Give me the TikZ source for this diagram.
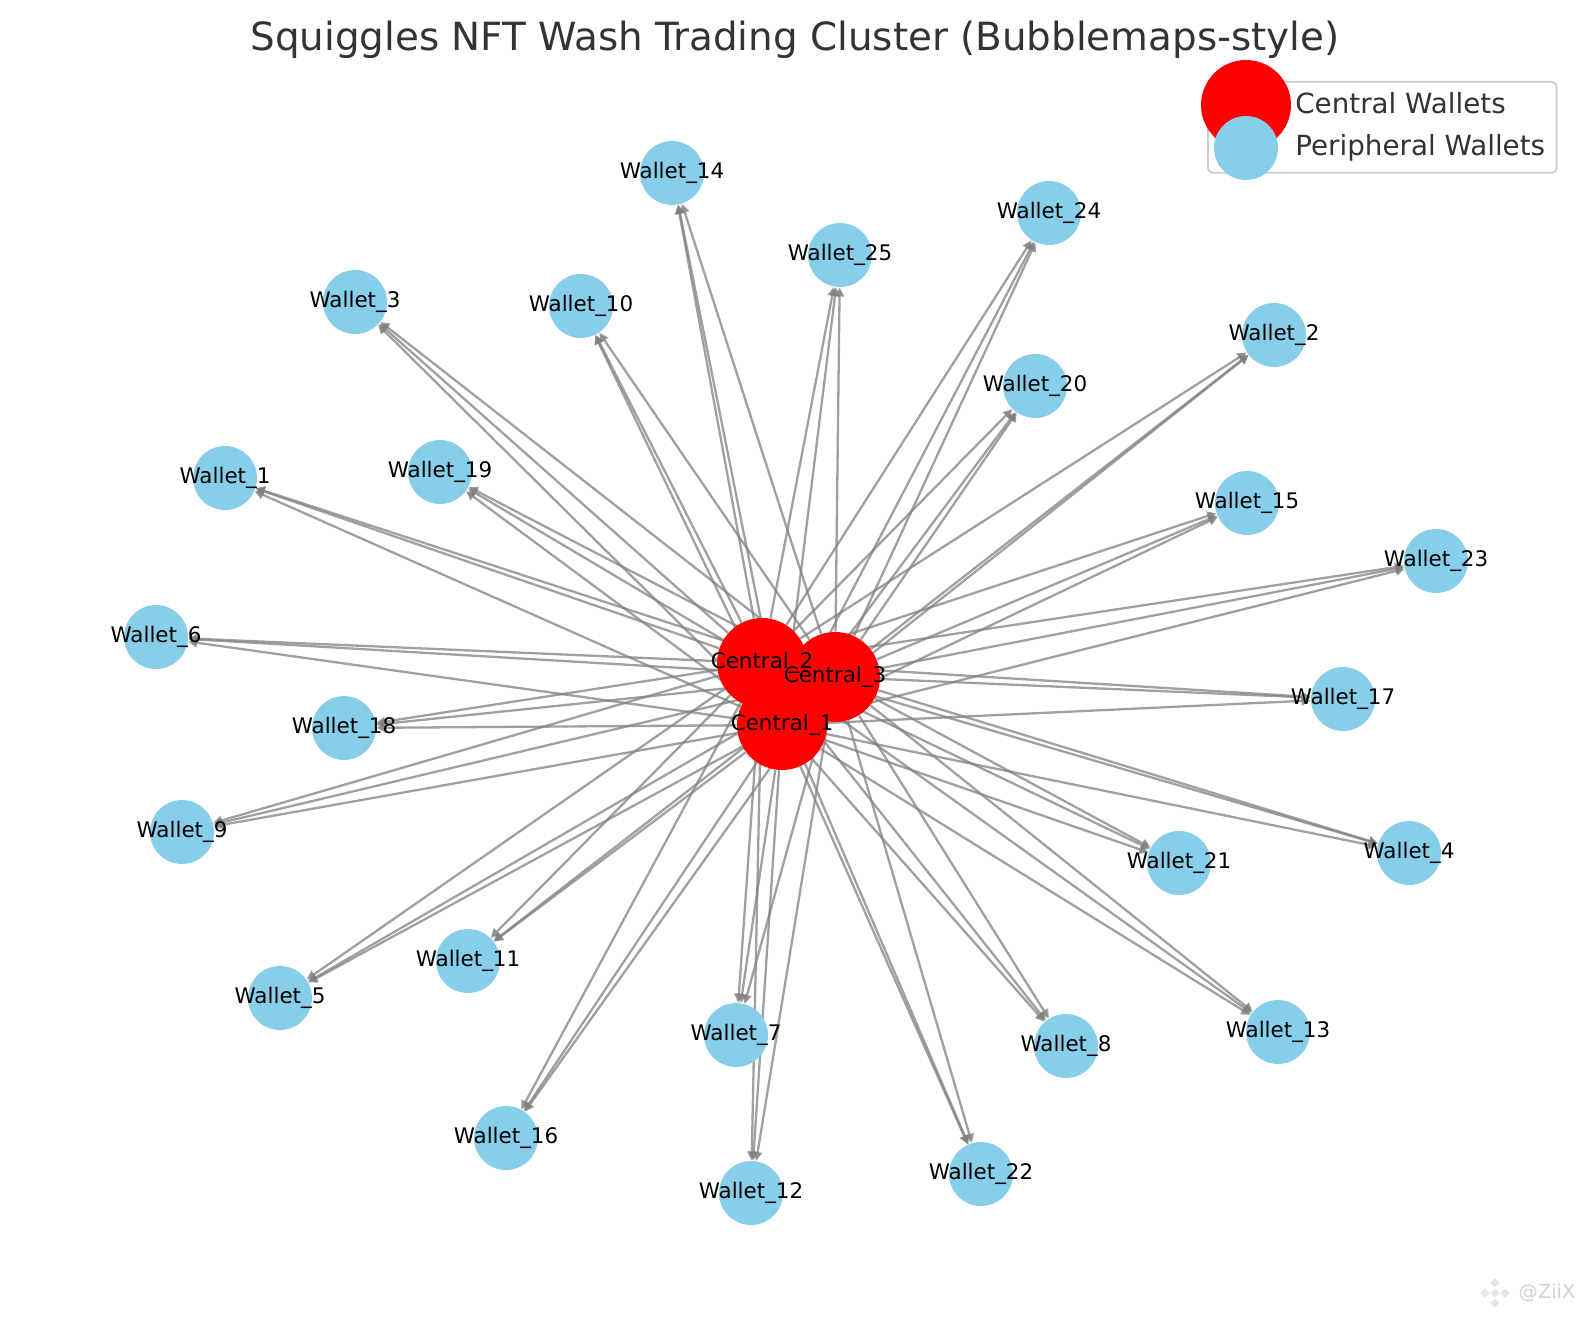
\documentclass[tikz,border=0pt]{standalone}
\usepackage{fontspec}
\setmainfont{DejaVu Sans}
\usepackage{tikz}
\usetikzlibrary{arrows.meta,backgrounds}
\definecolor{skyblue}{RGB}{135,206,235}
\definecolor{titlegray}{RGB}{51,51,51}
\definecolor{edgegray}{RGB}{128,128,128}
\definecolor{framegray}{RGB}{204,204,204}
\tikzset{
  central/.style={circle, fill=red, minimum size=1.8cm, inner sep=0pt},
  wallet/.style={circle, fill=skyblue, minimum size=1.28cm, inner sep=0pt},
  walletlabel/.style={inner sep=0pt, font=\fontsize{12.2pt}{14pt}\selectfont}
}

\begin{document}
\begin{tikzpicture}[
    x=0.02cm, y=-0.02cm, % one unit is one pixel of the reference
    edge/.style={draw=edgegray, opacity=0.75, line width=0.046cm, -{Triangle[length=5.2pt,width=5.2pt]}},
    legendbox/.style={draw=framegray, fill=white, line width=0.035cm, rounded corners=0.1cm},
    legendtext/.style={anchor=base west, inner sep=0pt, text=titlegray, font=\fontsize{15.8pt}{19pt}\selectfont},
    markpiece/.style={fill=black!10, rotate=45, minimum size=0.13cm, inner sep=0pt}
]
    \useasboundingbox (0,0) rectangle (1589,1318);

    % Define nodes
    \node (c1) [central] at (782,725) {};
    \node (c2) [central] at (762,663) {};
    \node (c3) [central] at (835,677) {};

    \node (w1) [wallet, label={[walletlabel]center:Wallet\_1}] at (225,478) {};
    \node (w2) [wallet, label={[walletlabel]center:Wallet\_2}] at (1274,335) {};
    \node (w3) [wallet, label={[walletlabel]center:Wallet\_3}] at (355,302) {};
    \node (w4) [wallet, label={[walletlabel]center:Wallet\_4}] at (1409,853) {};
    \node (w5) [wallet, label={[walletlabel]center:Wallet\_5}] at (280,998) {};
    \node (w6) [wallet, label={[walletlabel]center:Wallet\_6}] at (156,637) {};
    \node (w7) [wallet, label={[walletlabel]center:Wallet\_7}] at (736,1035) {};
    \node (w8) [wallet, label={[walletlabel]center:Wallet\_8}] at (1066,1046) {};
    \node (w9) [wallet, label={[walletlabel]center:Wallet\_9}] at (182,832) {};
    \node (w10) [wallet, label={[walletlabel]center:Wallet\_10}] at (581,306) {};
    \node (w11) [wallet, label={[walletlabel]center:Wallet\_11}] at (468,961) {};
    \node (w12) [wallet, label={[walletlabel]center:Wallet\_12}] at (751,1193) {};
    \node (w13) [wallet, label={[walletlabel]center:Wallet\_13}] at (1278,1032) {};
    \node (w14) [wallet, label={[walletlabel]center:Wallet\_14}] at (672,173) {};
    \node (w15) [wallet, label={[walletlabel]center:Wallet\_15}] at (1247,503) {};
    \node (w16) [wallet, label={[walletlabel]center:Wallet\_16}] at (506,1138) {};
    \node (w17) [wallet, label={[walletlabel]center:Wallet\_17}] at (1343,699) {};
    \node (w18) [wallet, label={[walletlabel]center:Wallet\_18}] at (344,728) {};
    \node (w19) [wallet, label={[walletlabel]center:Wallet\_19}] at (440,472) {};
    \node (w20) [wallet, label={[walletlabel]center:Wallet\_20}] at (1035,386) {};
    \node (w21) [wallet, label={[walletlabel]center:Wallet\_21}] at (1179,863) {};
    \node (w22) [wallet, label={[walletlabel]center:Wallet\_22}] at (981,1174) {};
    \node (w23) [wallet, label={[walletlabel]center:Wallet\_23}] at (1436,561) {};
    \node (w24) [wallet, label={[walletlabel]center:Wallet\_24}] at (1049,213) {};
    \node (w25) [wallet, label={[walletlabel]center:Wallet\_25}] at (840,255) {};

    % Central labels sit on top of all three red bubbles
    \node (l1) [walletlabel] at (c1) {Central\_1};
    \node (l2) [walletlabel] at (c2) {Central\_2};
    \node (l3) [walletlabel] at (c3) {Central\_3};

    % Draw edges (every central wallet trades with every peripheral one)
    \begin{scope}[on background layer]
        \foreach \c in {1,2,3}
            \foreach \w in {1,...,25}
                \draw[edge] (c\c) -- (w\w);
    \end{scope}

    % Title
    \node (title) [text=titlegray, font=\fontsize{22.1pt}{26pt}\selectfont] at (795,40) {Squiggles NFT Wash Trading Cluster (Bubblemaps-style)};

    % Legend
    \node (frame) [legendbox, minimum width=6.98cm, minimum height=1.82cm, anchor=north west] at (1207,81) {};
    \node (keyc) [central] at (1246,105) {};
    \node (keyw) [wallet] at (1246,148) {};
    \node (textc) [legendtext] at (1295,113) {Central Wallets};
    \node (textw) [legendtext] at (1295,155) {Peripheral Wallets};

    % Watermark
    \node (logo) [markpiece] at (1495,1293) {};
    \node [markpiece] at (1495,1283) {};
    \node [markpiece] at (1495,1303) {};
    \node [markpiece] at (1485,1293) {};
    \node [markpiece] at (1505,1293) {};
    \node (mark) [text=black!18, font=\fontsize{11pt}{13pt}\selectfont] at (1547,1293) {@ZiiX};

\end{tikzpicture}
\end{document}
